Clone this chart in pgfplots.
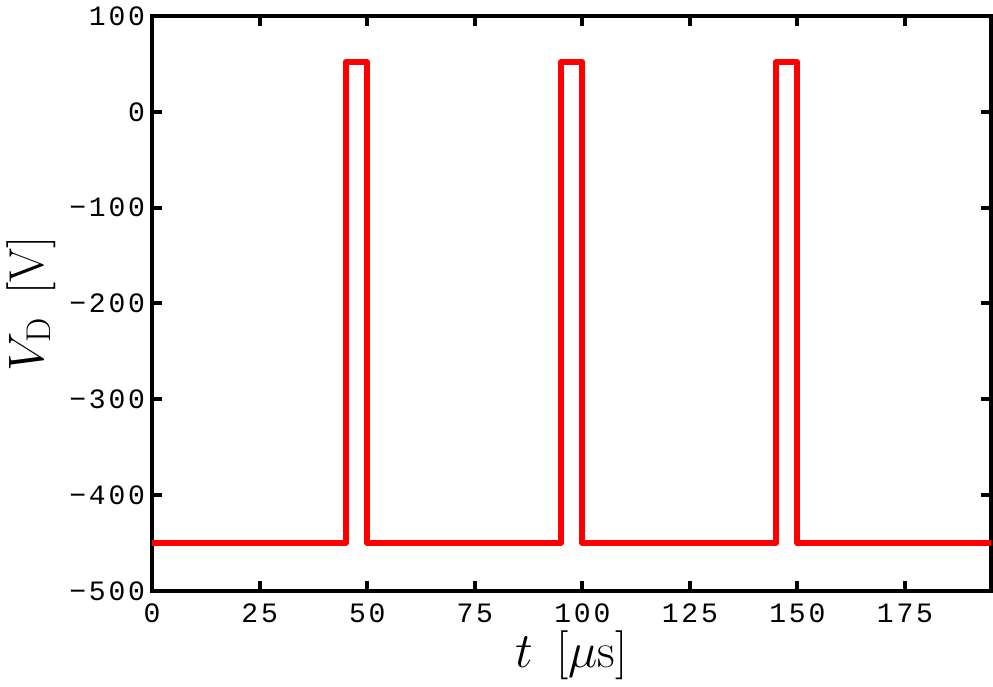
\documentclass[border=0pt]{standalone}
\usepackage{fontspec}
\newfontfamily\monofont[LetterSpace=10]{Liberation Mono}
\usepackage{pgfplots}
\pgfplotsset{compat=1.18}
\begin{document}
\begin{tikzpicture}
\begin{axis}[
  scale only axis,
  width=419pt, height=287pt,
  xmin=0, xmax=195, ymin=-500, ymax=100,
  xtick={0,25,...,175}, ytick={-500,-400,...,100},
  yticklabels={−500,−400,−300,−200,−100,0,100},
  tick align=inside,
  major tick length=5pt,
  axis line style={line width=2pt},
  every tick/.style={line width=2pt, black},
  tick label style={font=\fontsize{14}{16}\monofont},
  xticklabel style={yshift=-3pt},
  /pgf/number format/assume math mode=true,
  /pgf/number format/.cd, 1000 sep={}, /pgfplots/.cd,
  xlabel={$t$\ \,[$\mu$s]}, ylabel={$V_\mathrm{D}$\ \,[V]},
  label style={font=\fontsize{24.5}{28}\selectfont},
  xlabel style={yshift=3pt},
  ylabel style={yshift=0pt},
  clip=true,
]
\addplot[red, line width=3pt, line join=round, line cap=round] coordinates {
(0,-450) (45,-450) (45,52) (50,52) (50,-450)
(95,-450) (95,52) (100,52) (100,-450)
(145,-450) (145,52) (150,52) (150,-450) (195,-450)
};
\end{axis}
\end{tikzpicture}
\end{document}
